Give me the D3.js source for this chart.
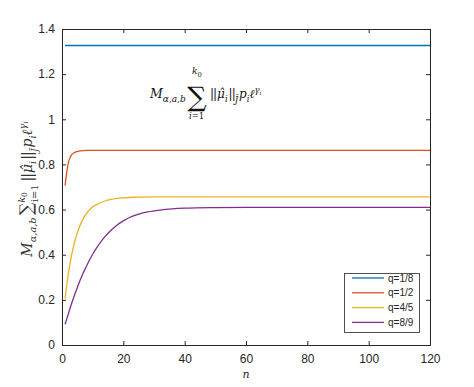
<!DOCTYPE html>
<html><head><meta charset="utf-8">
<script src="https://cdn.jsdelivr.net/npm/d3@7"></script>
<style>body{margin:0;background:#fff}</style>
</head><body><svg id="c" width="474" height="387"></svg>
<script>
const seriesNames = ["q=1/8","q=1/2","q=4/5","q=8/9"];
const seriesColors = ["#0072BD","#D95319","#EDB120","#7E2F8E"];
const nQ18 = [1,10,20,40,60,80,100,120];
const vQ18 = [1.327,1.327,1.327,1.327,1.327,1.327,1.327,1.327];
const nQ12 = [1,1.5,2,3,4,5,6,8,10,20,40,60,80,100,120];
const vQ12 = [0.706,0.76,0.803,0.84,0.852,0.857,0.86,0.862,0.862,0.862,0.862,0.862,0.862,0.862,0.862];
const nQ45 = [1,2,3,4,5,6,7,8,10,12,14,16,20,25,30,40,60,80,100,120];
const vQ45 = [0.206,0.309,0.389,0.45,0.497,0.534,0.562,0.583,0.612,0.627,0.638,0.645,0.652,0.655,0.656,0.656,0.656,0.656,0.656,0.656];
const nQ89 = [1,2,3,4,5,6,8,10,12,14,16,18,20,22,25,28,32,36,40,50,60,80,100,120];
const vQ89 = [0.092,0.135,0.178,0.218,0.255,0.29,0.35,0.402,0.445,0.48,0.508,0.532,0.55,0.565,0.58,0.59,0.598,0.603,0.606,0.609,0.61,0.61,0.61,0.61];
const xTicks = [0,20,40,60,80,100,120];
const yTicks = [0,0.2,0.4,0.6,0.8,1,1.2,1.4];
const yTickLabels = ["0","0.2","0.4","0.6","0.8","1","1.2","1.4"];

const series = [[nQ18,vQ18],[nQ12,vQ12],[nQ45,vQ45],[nQ89,vQ89]];
const svg = d3.select("#c");
const L=62,R=430,T=29,B=345;
const x = d3.scaleLinear().domain([0,120]).range([L,R]);
const y = d3.scaleLinear().domain([0,1.4]).range([B,T]);
const axCol="#262626";
const tickFont="Liberation Sans, Arial, sans-serif";

// lines
const line = d3.line().x(d=>x(d[0])).y(d=>y(d[1])).curve(d3.curveMonotoneX);
series.forEach((s,i)=>{
  const pts = s[0].map((n,j)=>[n,s[1][j]]);
  svg.append("path").attr("d",line(pts)).attr("fill","none")
    .attr("stroke",seriesColors[i]).attr("stroke-width",1.3);
});

// axes
const gx = svg.append("g").attr("transform",`translate(0,${B})`)
  .call(d3.axisBottom(x).tickValues(xTicks).tickSize(-4).tickPadding(9));
const gxt = svg.append("g").attr("transform",`translate(0,${T})`)
  .call(d3.axisTop(x).tickValues(xTicks).tickSize(-4).tickFormat(""));
const gy = svg.append("g").attr("transform",`translate(${L},0)`)
  .call(d3.axisLeft(y).tickValues(yTicks).tickSize(-4).tickPadding(7).tickFormat((d,i)=>yTickLabels[i]));
const gyr = svg.append("g").attr("transform",`translate(${R},0)`)
  .call(d3.axisRight(y).tickValues(yTicks).tickSize(-4).tickFormat(""));
[gx,gxt,gy,gyr].forEach(g=>{
  g.selectAll("path").attr("stroke",axCol).attr("stroke-width",1);
  g.selectAll("line").attr("stroke",axCol);
  g.selectAll("text").attr("fill",axCol).style("font-family",tickFont).style("font-size","12px");
});

// x label
svg.append("text").attr("x",(L+R)/2).attr("y",378).attr("text-anchor","middle")
  .style("font-family","DejaVu Serif, serif").style("font-style","italic")
  .style("font-size","11px").attr("fill",axCol).text("n");

// math helper
const serif="DejaVu Serif, Liberation Serif, serif";
function mathText(sel, parts, size){
  const t = sel.append("text").style("font-family",serif).style("font-size",size+"px").attr("fill","#111");
  let cur=0;
  parts.forEach(p=>{
    const lvl=p.l||0;
    const dy = lvl-cur; cur=lvl;
    const ts=t.append("tspan").text(p.t).attr("dy",(dy*size*0.32).toFixed(2));
    if(p.i) ts.style("font-style","italic");
    if(p.s) ts.style("font-size",(size*p.s)+"px");
    if(p.dx) ts.attr("dx",p.dx);
    if(p.ls) ts.style("letter-spacing",p.ls+"px");
  });
  return t;
}
const tail = [
  {t:"||",l:0,dx:3,ls:-1},{t:"μ̂",i:1,dx:1},{t:"i",i:1,s:0.7,l:1},{t:"||",l:0,ls:-1,dx:1},{t:"J̄",i:1,s:0.7,l:1.3},
  {t:"p",i:1,l:0,dx:1},{t:"i",i:1,s:0.7,l:1},{t:"ℓ",i:1,l:0},{t:"γ",i:1,s:0.7,l:-1.3},{t:"i",i:1,s:0.5,l:-0.9}
];

// y label (inline style)
const yl = svg.append("g").attr("transform","translate(32,189) rotate(-90)");
mathText(yl,[
  {t:"M",i:1},{t:"α,a,b",i:1,s:0.7,l:1},
  {t:"∑",l:0,s:1.25,dx:2},{t:"k",i:1,s:0.7,l:-1.6},{t:"0",s:0.55,l:-1.1},
  {t:"i=1",s:0.7,l:1.3,dx:-10}
].concat(tail),14).attr("text-anchor","middle").attr("fill","#333");

// annotation (display style)
const an = svg.append("g");
mathText(an,[{t:"M",i:1},{t:"α,a,b",i:1,s:0.72,l:1}],12.5).attr("x",150).attr("y",98);
an.append("text").attr("x",197).attr("y",106).attr("text-anchor","middle")
  .style("font-family",serif).style("font-size","27px").attr("fill","#111").text("∑");
mathText(an,[{t:"k",i:1},{t:"0",s:0.75,l:1}],9).attr("x",192).attr("y",74);
mathText(an,[{t:"i",i:1},{t:"=1"}],8.5).attr("x",189).attr("y",119);
mathText(an,tail,12).attr("x",207).attr("y",98);

// legend
const lg = svg.append("g");
lg.append("rect").attr("x",344.5).attr("y",273.5).attr("width",75).attr("height",59)
  .attr("fill","#fff").attr("stroke",axCol).attr("stroke-width",0.8);
seriesNames.forEach((nm,i)=>{
  const yy = 278+i*14.8;
  lg.append("line").attr("x1",352).attr("x2",384).attr("y1",yy).attr("y2",yy)
    .attr("stroke",seriesColors[i]).attr("stroke-width",1.3);
  lg.append("text").attr("x",388).attr("y",yy+3.5).style("font-family",tickFont)
    .style("font-size","10px").attr("fill",axCol).text(nm);
});
</script></body></html>
